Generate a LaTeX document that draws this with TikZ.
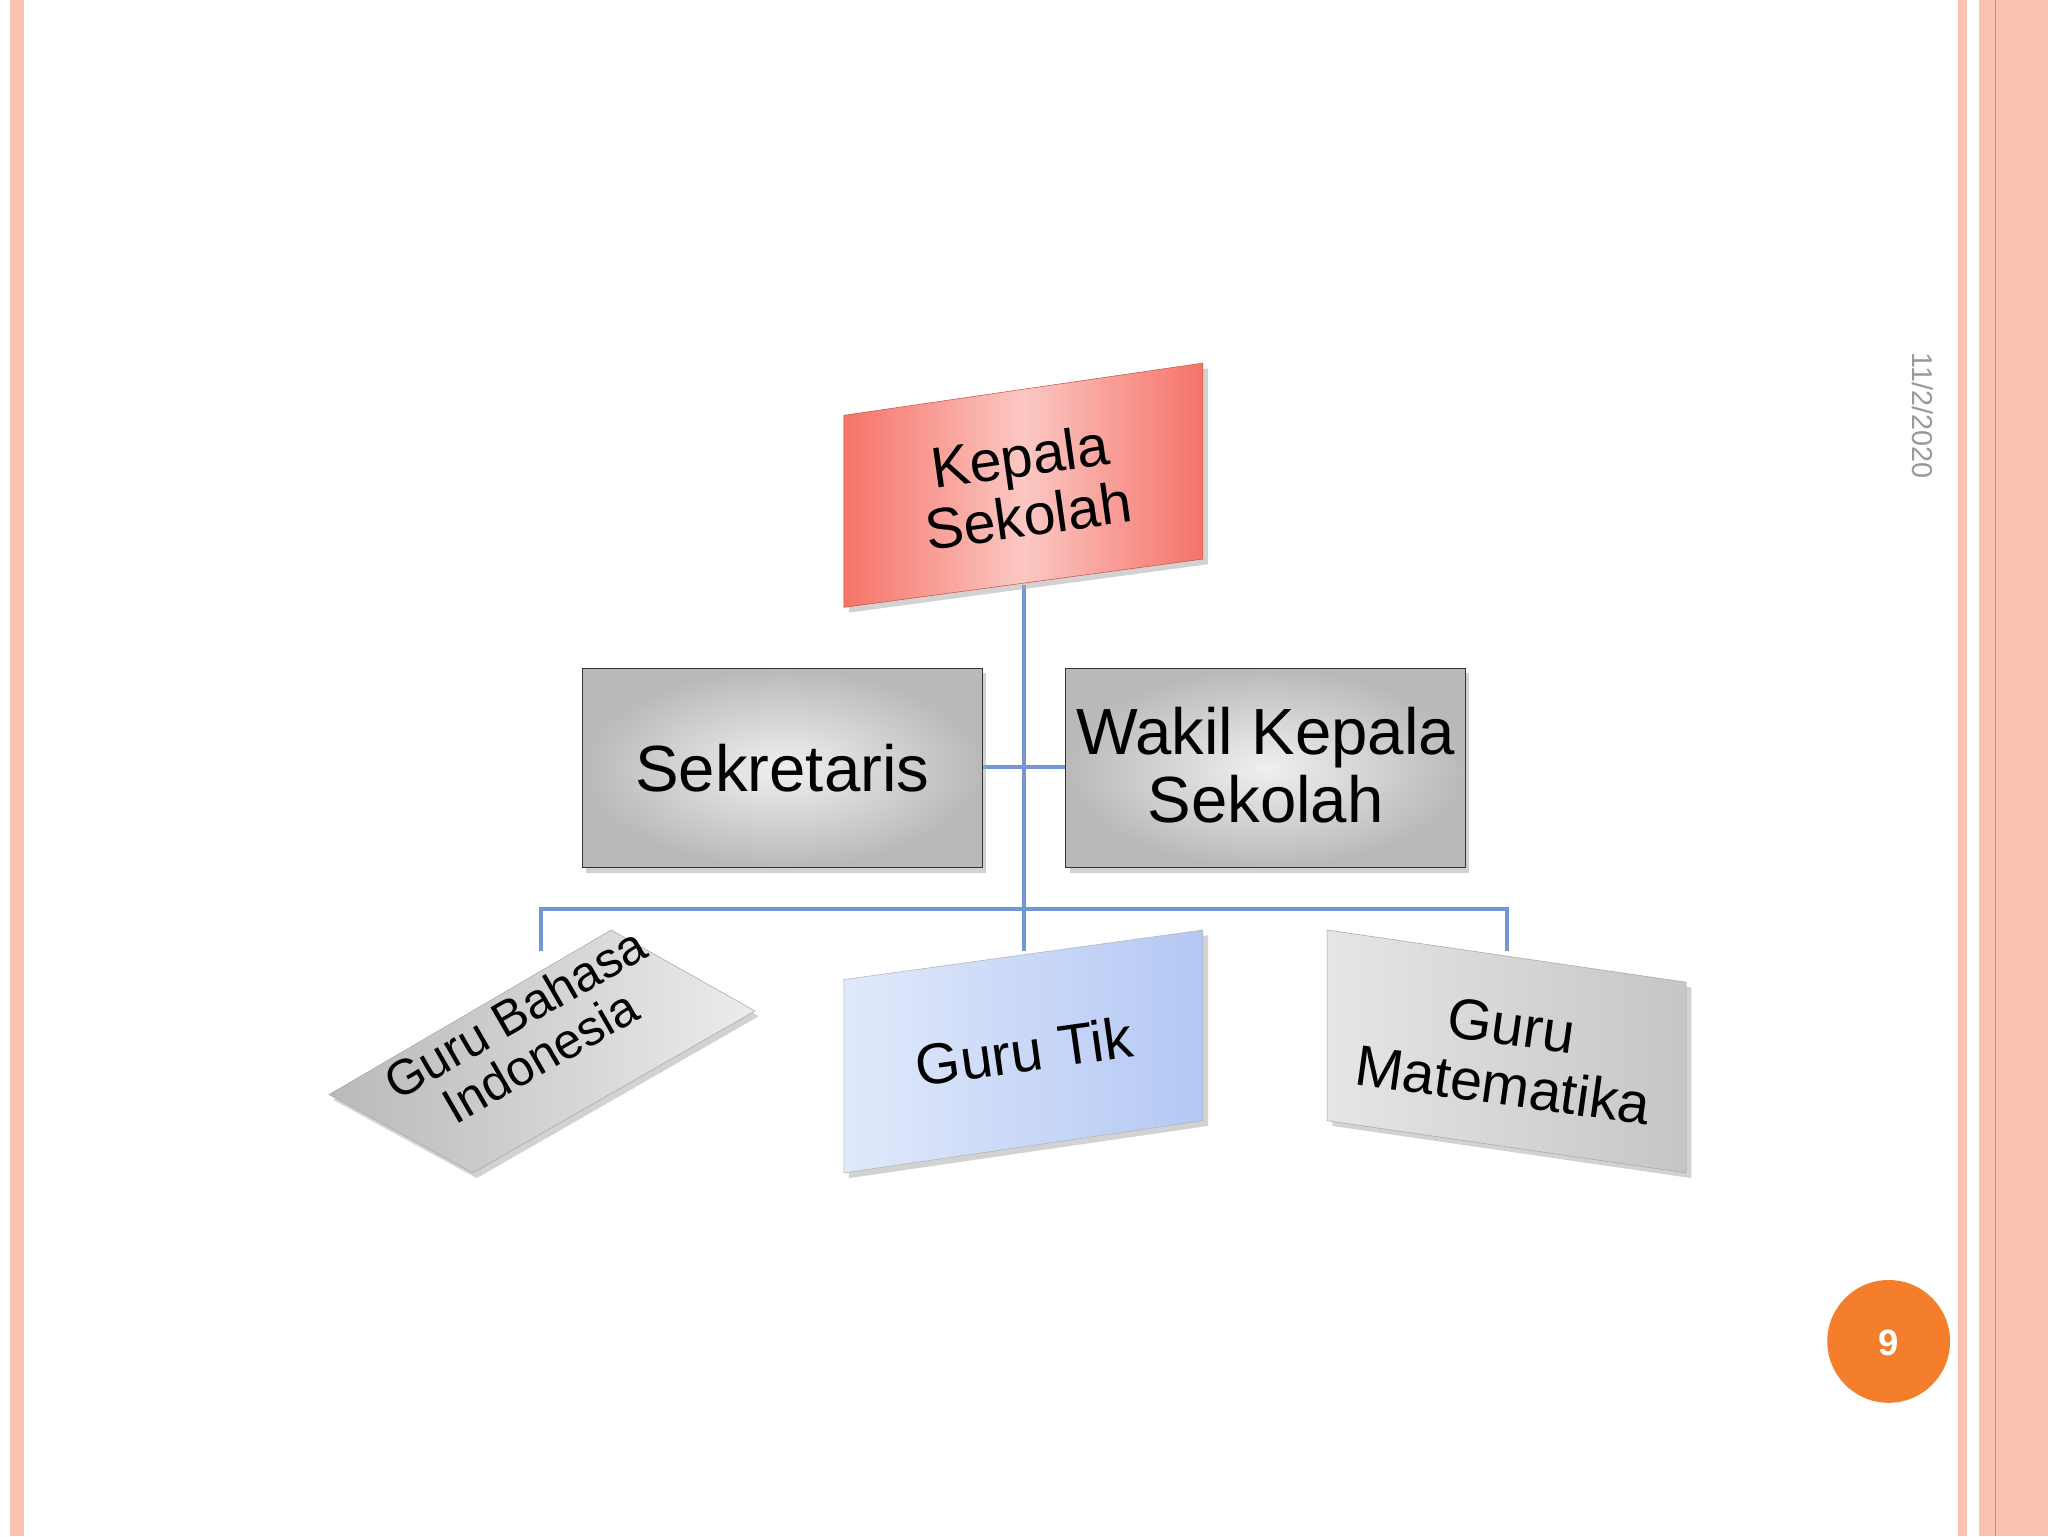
\documentclass[tikz,border=0pt]{standalone}
\usepackage{fontspec}
\setmainfont{Liberation Sans}
\definecolor{connc}{RGB}{114,151,212}
\definecolor{redA}{RGB}{245,115,105}
\definecolor{redM}{RGB}{252,200,195}
\definecolor{redD}{RGB}{200,80,70}
\definecolor{blueL}{RGB}{225,233,250}
\definecolor{blueR}{RGB}{180,200,245}
\definecolor{pgorange}{RGB}{244,126,44}
\definecolor{bpink}{RGB}{250,195,175}
\definecolor{bline}{RGB}{238,130,70}
\begin{document}
\begin{tikzpicture}[x=1pt,y=-1pt,
  conn/.style={draw=connc, line width=3pt},
  lbl/.style={align=center, font=\fontsize{44}{46}\selectfont, inner sep=0pt},
  sh/.style={fill=black!35, opacity=0.5}]
\useasboundingbox (0,0) rectangle (1568,1176);
\fill[white] (0,0) rectangle (1568,1176);
% borders
\fill[bpink] (8,0) rectangle (18,1176);
\fill[bpink] (1499,0) rectangle (1506,1176);
\fill[bpink] (1515,0) rectangle (1568,1176);
\draw[bline, line width=1pt] (1528,0) -- (1528,1176);
% connectors
\coordinate (top) at (784,448);
\coordinate (bl) at (414,696);
\coordinate (br) at (1154,696);
\coordinate (dl) at (414,728);
\coordinate (dm) at (784,728);
\coordinate (dr) at (1154,728);
\coordinate (sr) at (752,587);
\coordinate (wl) at (816,587);
\draw[conn] (top) -- (dm);
\draw[conn] (sr) -- (wl);
\draw[conn] (dl) -- (bl) -- (br) -- (dr);
% Kepala
\fill[sh] (650,322) -- (925,282) -- (925,432) -- (650,469) -- cycle;
\shade[left color=redA, right color=redA, middle color=redM, draw=redD]
 (646,318) -- (921,278) -- (921,428) -- (646,465) -- cycle;
\node[lbl, rotate=8] (kep) at (784,372) {Kepala\\Sekolah};
% Sekretaris
\fill[sh] (449,515) rectangle (755,668);
\shade[inner color=gray!12, outer color=gray!55, draw=black!80, line width=1pt] (446,512) rectangle (752,664);
\node[lbl, font=\fontsize{50}{52}\selectfont] (sek) at (599,588) {Sekretaris};
% Wakil
\fill[sh] (819,515) rectangle (1125,668);
\shade[inner color=gray!12, outer color=gray!55, draw=black!80, line width=1pt] (816,512) rectangle (1122,664);
\node[lbl, font=\fontsize{50}{52}\selectfont] (wak) at (969,586) {Wakil Kepala\\Sekolah};
% Guru Bahasa
\fill[sh] (255,842) -- (471,716) -- (581,778) -- (365,902) -- cycle;
\shade[shading angle=30, left color=gray!55, right color=gray!15, draw=gray!70] (252,838) -- (468,712) -- (578,774) -- (362,898) -- cycle;
\node[lbl, rotate=30, font=\fontsize{38}{38}\selectfont] (gbi) at (404,792) {Guru Bahasa\\Indonesia};
% Guru Tik
\fill[sh] (650,754) -- (925,716) -- (925,862) -- (650,902) -- cycle;
\shade[left color=blueL, right color=blueR, draw=gray!60] (646,750) -- (921,712) -- (921,858) -- (646,898) -- cycle;
\node[lbl, rotate=8] (tik) at (784,805) {Guru Tik};
% Guru Matematika
\fill[sh] (1020,716) -- (1295,756) -- (1295,902) -- (1020,862) -- cycle;
\shade[left color=gray!20, right color=gray!45, draw=gray!70] (1016,712) -- (1291,752) -- (1291,898) -- (1016,858) -- cycle;
\node[lbl, rotate=-8] (mat) at (1154,808) {Guru\\Matematika};
% date
\node[rotate=-90, font=\fontsize{22}{24}\selectfont, text=gray!80] (date) at (1472,318) {11/2/2020};
% page number
\fill[pgorange] (1446,1027) circle (47);
\node[text=white, font=\fontsize{28}{30}\selectfont\bfseries] (pg) at (1446,1028) {9};
\end{tikzpicture}
\end{document}
